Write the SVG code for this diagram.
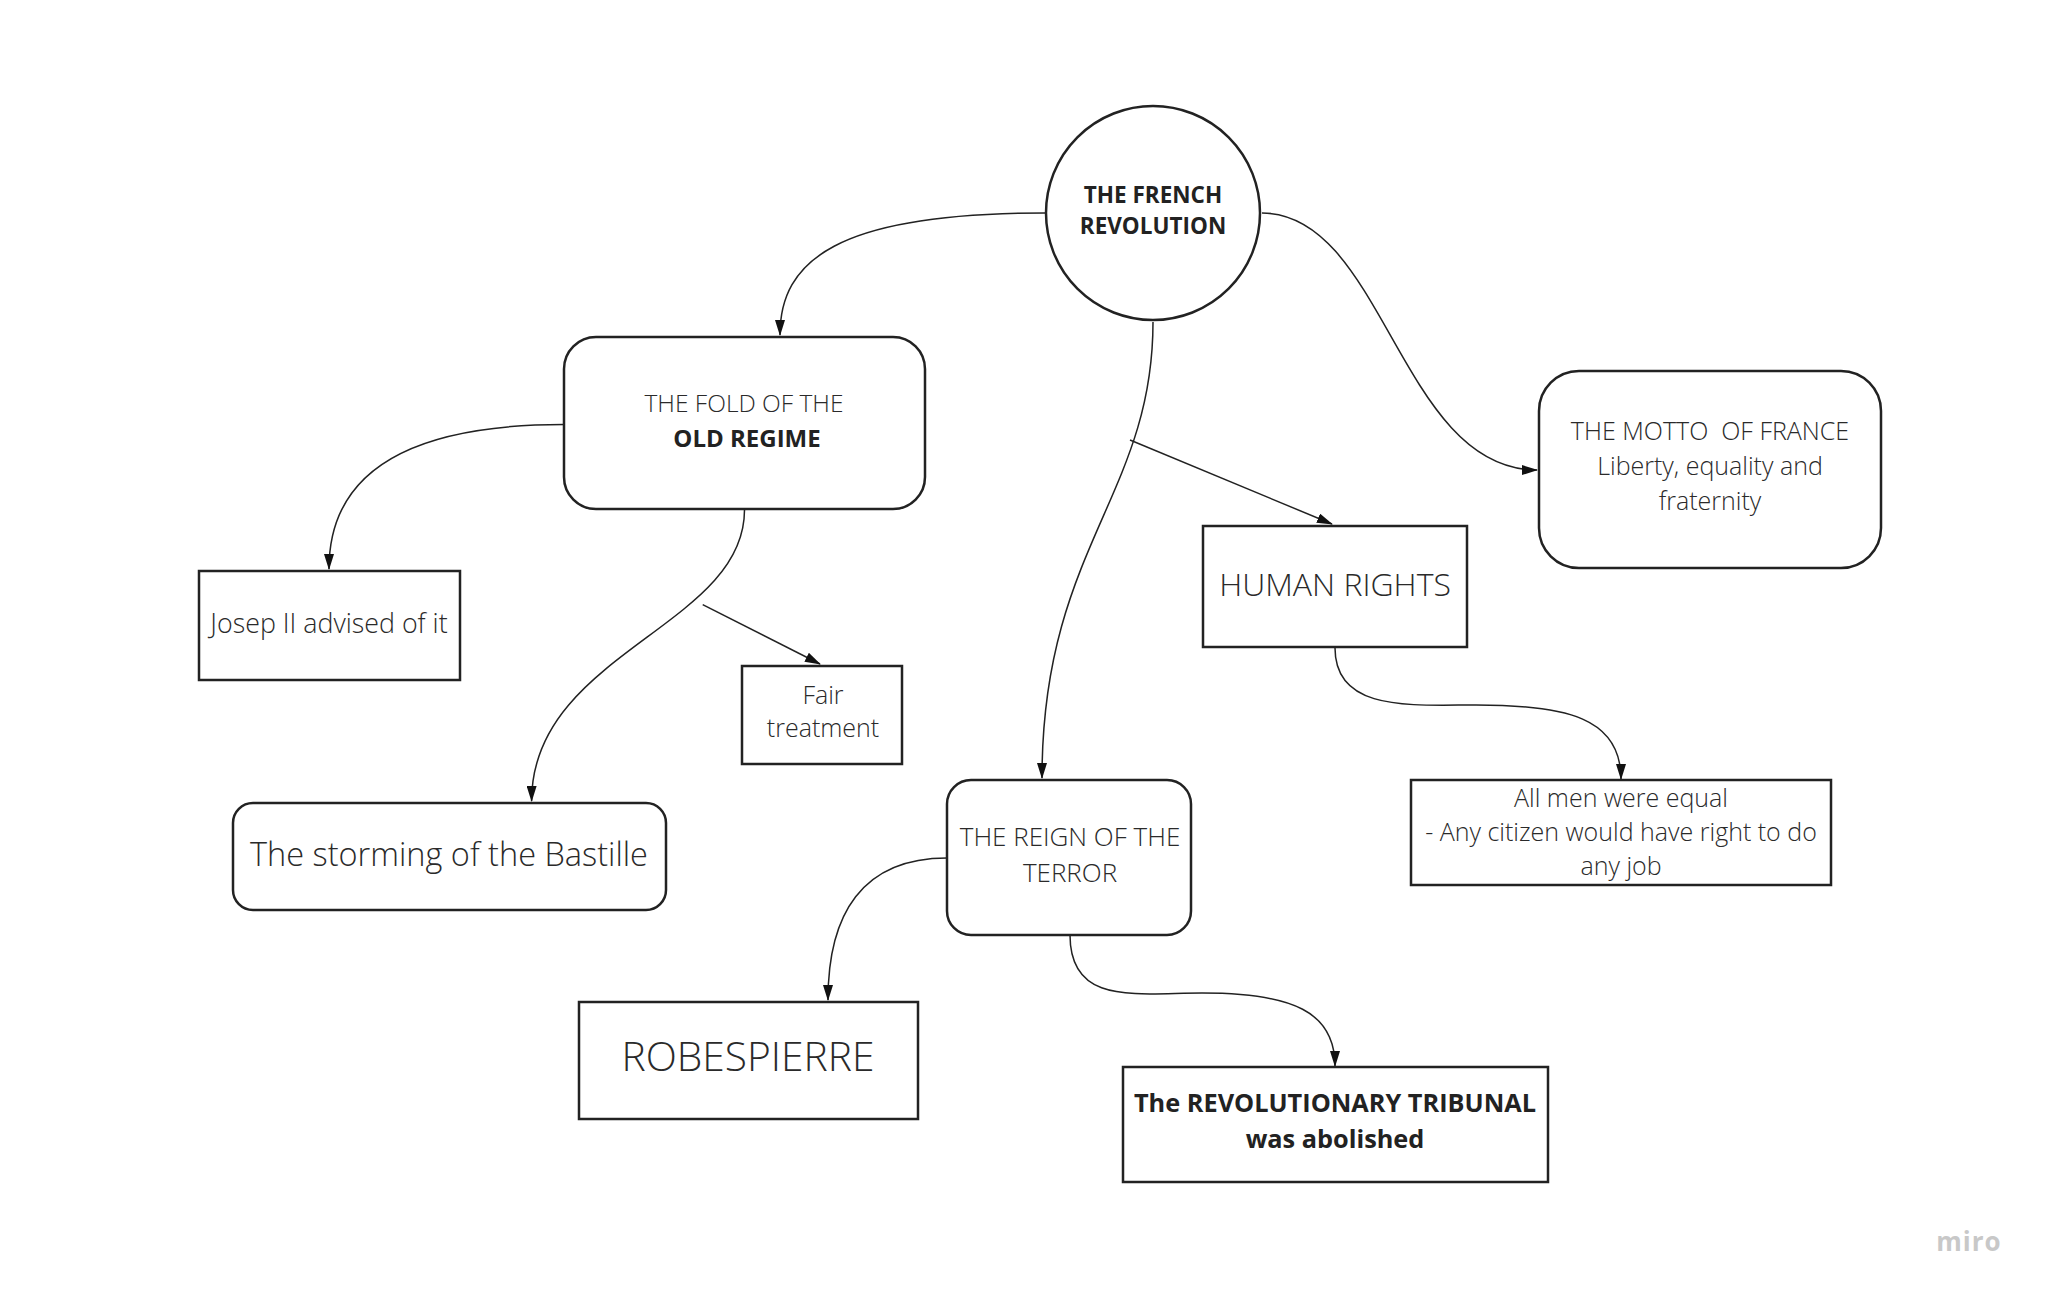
<svg xmlns="http://www.w3.org/2000/svg" width="2048" height="1301" viewBox="0 0 2048 1301">
<defs>
<marker id="arr" viewBox="0 0 16 10" refX="15" refY="5" markerWidth="16" markerHeight="10" markerUnits="userSpaceOnUse" orient="auto">
<path d="M0,0 L16,5 L0,10 Z" fill="#111"/>
</marker>
<style>
.node{fill:#fff;stroke:#222;stroke-width:2.5}
.t{font-family:"Open Sans","Liberation Sans",sans-serif;fill:#2a2a2a;text-anchor:middle;font-weight:300}
.b{font-weight:700;fill:#222}
.c{fill:none;stroke:#222;stroke-width:1.5}
</style>
</defs>
<rect width="2048" height="1301" fill="#fff"/>
<g id="connectors">
<path class="c" d="M1045,213 C836,213 780,261 780,335" marker-end="url(#arr)"/>
<path class="c" d="M1262,213 C1384,213 1400,470 1537,470" marker-end="url(#arr)"/>
<path class="c" d="M1153,322 C1153,496 1042,549 1042,778" marker-end="url(#arr)"/>
<path class="c" d="M1130,440 L1332,524" marker-end="url(#arr)"/>
<path class="c" d="M744.5,510 C744.5,627 531.6,653 531.6,801" marker-end="url(#arr)"/>
<path class="c" d="M702.7,604.7 L820,664" marker-end="url(#arr)"/>
<path class="c" d="M564,424.5 C392,424.5 329,483 329,569" marker-end="url(#arr)"/>
<path class="c" d="M1335,648 C1335,712 1411,705 1476,705 C1567,705 1621,718 1621,779" marker-end="url(#arr)"/>
<path class="c" d="M947,858 C862,858 828,914 828,1000" marker-end="url(#arr)"/>
<path class="c" d="M1070,935 C1070,1006 1136,993 1202,993 C1293,993 1335,1012 1335,1066" marker-end="url(#arr)"/>
</g>
<g id="french-revolution">
<circle class="node" cx="1153" cy="213" r="107"/>
<text class="t b" x="1153" y="203" font-size="22.5">THE FRENCH</text>
<text class="t b" x="1153" y="234" font-size="22.5">REVOLUTION</text>
</g>
<g id="old-regime">
<rect class="node" x="564" y="337" width="361" height="172" rx="32"/>
<text class="t" x="744" y="412" font-size="24.5">THE FOLD OF THE</text>
<text class="t b" x="747" y="447" font-size="24">OLD REGIME</text>
</g>
<g id="josep">
<rect class="node" x="199" y="571" width="261" height="109"/>
<text class="t" x="329" y="633" font-size="26.8">Josep II advised of it</text>
</g>
<g id="fair-treatment">
<rect class="node" x="742" y="666" width="160" height="98"/>
<text class="t" x="823" y="704" font-size="25">Fair</text>
<text class="t" x="823" y="737" font-size="25">treatment</text>
</g>
<g id="bastille">
<rect class="node" x="233" y="803" width="433" height="107" rx="20"/>
<text class="t" x="449" y="866" font-size="32.5">The storming of the Bastille</text>
</g>
<g id="reign-of-terror">
<rect class="node" x="947" y="780" width="244" height="155" rx="24"/>
<text class="t" x="1070" y="846" font-size="26">THE REIGN OF THE</text>
<text class="t" x="1070" y="882" font-size="26">TERROR</text>
</g>
<g id="robespierre">
<rect class="node" x="579" y="1002" width="339" height="117"/>
<text class="t" x="748" y="1071" font-size="40.7">ROBESPIERRE</text>
</g>
<g id="tribunal">
<rect class="node" x="1123" y="1067" width="425" height="115"/>
<text class="t b" x="1335" y="1112" font-size="25.3">The REVOLUTIONARY TRIBUNAL</text>
<text class="t b" x="1335" y="1148" font-size="25.3">was abolished</text>
</g>
<g id="human-rights">
<rect class="node" x="1203" y="526" width="264" height="121"/>
<text class="t" x="1335" y="596" font-size="32">HUMAN RIGHTS</text>
</g>
<g id="all-men">
<rect class="node" x="1411" y="780" width="420" height="105"/>
<text class="t" x="1621" y="807" font-size="25">All men were equal</text>
<text class="t" x="1621" y="841" font-size="25">- Any citizen would have right to do</text>
<text class="t" x="1621" y="875" font-size="25">any job</text>
</g>
<g id="motto">
<rect class="node" x="1539" y="371" width="342" height="197" rx="40"/>
<text class="t" x="1710" y="440" font-size="25" xml:space="preserve">THE MOTTO  OF FRANCE</text>
<text class="t" x="1710" y="475" font-size="25">Liberty, equality and</text>
<text class="t" x="1710" y="510" font-size="25">fraternity</text>
</g>
<text class="t" x="1969" y="1251" font-size="26" style="fill:#c8c8c8;font-weight:700;letter-spacing:1px">miro</text>
</svg>
